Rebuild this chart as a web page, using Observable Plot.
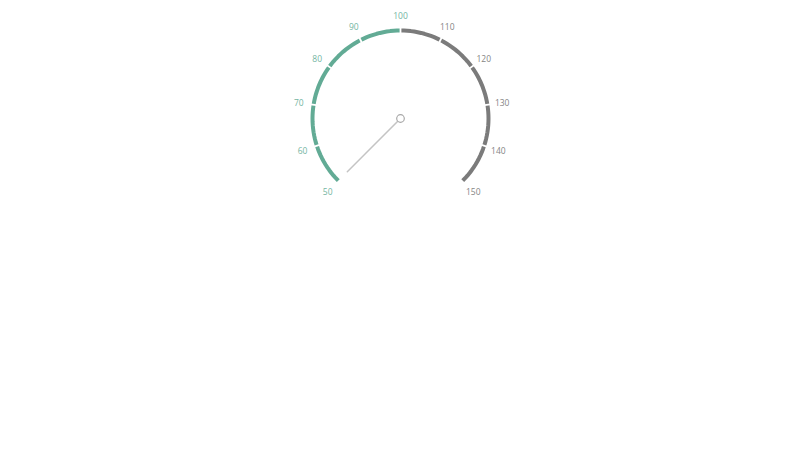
<!DOCTYPE html>
<html>
<head>
<meta charset="utf-8">
<script src="https://cdn.jsdelivr.net/npm/d3@7"></script>
<script src="https://cdn.jsdelivr.net/npm/@observablehq/plot@0.6"></script>
<style>
  html, body { margin: 0; padding: 0; background: #fff; }
  #chart { width: 800px; height: 450px; }
</style>
</head>
<body>
<div id="chart"></div>
<script>
// ---- data ----
const axisMin = 50;
const axisMax = 150;
const tickValues = [50, 60, 70, 80, 90, 100, 110, 120, 130, 140, 150];
const tickLabels = ["50", "60", "70", "80", "90", "100", "110", "120", "130", "140", "150"];
const progressValue = 100;   // green progress arc ends here
const pointerValue = 50;     // needle points here

// ---- gauge geometry (unit radius = arc radius) ----
const startAngle = -135, endAngle = 135; // degrees from 12 o'clock, clockwise
const green = "#62ab95";
const gray = "#7b7b7b";
const greenLabel = "#74b5a2";
const grayLabel = "#858585";
const toAngle = v => (startAngle + (v - axisMin) / (axisMax - axisMin) * (endAngle - startAngle)) * Math.PI / 180;
const px = (v, r) => r * Math.sin(toAngle(v));
const py = (v, r) => r * Math.cos(toAngle(v));

function arcPoints(v0, v1, series) {
  const n = 60, pts = [];
  for (let i = 0; i <= n; i++) {
    const v = v0 + (v1 - v0) * i / n;
    pts.push({x: px(v, 1), y: py(v, 1), series, color: series === "progress" ? green : gray});
  }
  return pts;
}
const arcData = [
  ...arcPoints(axisMin, progressValue, "progress"),
  ...arcPoints(progressValue, axisMax, "rest")
];
const splitData = tickValues.slice(1, -1).flatMap(v => [
  {x: px(v, 0.95), y: py(v, 0.95), v},
  {x: px(v, 1.05), y: py(v, 1.05), v}
]);
const labelData = tickValues.map((v, i) => ({
  x: px(v, 1.17), y: py(v, 1.17), label: tickLabels[i], color: v <= progressValue ? greenLabel : grayLabel
}));
const needleData = [
  {x: 0, y: 0},
  {x: px(pointerValue, 0.855), y: py(pointerValue, 0.855)}
];

const R = 88, cx = 400, cy = 118;
const chart = Plot.plot({
  width: 800,
  height: 450,
  margin: 0,
  x: {domain: [-cx / R, (800 - cx) / R], range: [0, 800], axis: null},
  y: {domain: [-(450 - cy) / R, cy / R], range: [450, 0], axis: null},
  color: {type: "identity"},
  style: {fontFamily: "'Open Sans', 'Noto Sans', sans-serif", background: "#fff"},
  marks: [
    Plot.line(arcData, {x: "x", y: "y", z: "series", stroke: "color", strokeWidth: 4, strokeLinecap: "butt"}),
    Plot.line(splitData, {x: "x", y: "y", z: "v", stroke: "#fff", strokeWidth: 1.8}),
    Plot.text(labelData, {x: "x", y: "y", text: "label", fill: "color", fontSize: 8.5, dy: 1}),
    Plot.line(needleData, {x: "x", y: "y", stroke: "#c4c4c4", strokeWidth: 1.5}),
    Plot.dot([{x: 0, y: 0}], {x: "x", y: "y", r: 3.8, fill: "#fff", stroke: "#a8a8a8", strokeWidth: 1.2})
  ]
});
document.getElementById("chart").appendChild(chart);
</script>
</body>
</html>
